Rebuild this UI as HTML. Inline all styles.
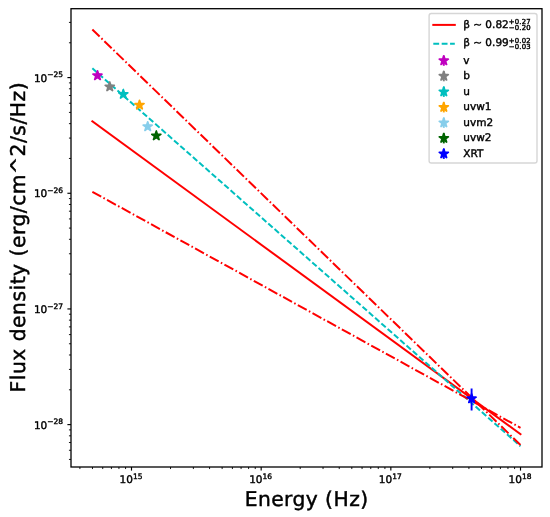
<!DOCTYPE html>
<html lang="en"><head><meta charset="utf-8"><title>Flux density vs Energy</title>
<style>html,body{margin:0;padding:0;background:#fff;}body{width:550px;height:517px;overflow:hidden;position:relative;}</style></head>
<body>
<svg width="550" height="517" viewBox="0 0 550 517" style="display:block;position:absolute;left:0;top:0;filter:blur(0.3px)" text-rendering="geometricPrecision" font-family="'DejaVu Sans', 'Liberation Sans', sans-serif">
<rect width="550" height="517" fill="#fff"/>
<defs><clipPath id="ax"><rect x="71.0" y="8.7" width="471.0" height="458.3"/></clipPath></defs>
<g clip-path="url(#ax)">
<line x1="92.35" y1="121.3" x2="520.5" y2="434.2" stroke="#ff0000" stroke-width="2.0" stroke-linecap="square"/>
<line x1="92.35" y1="68.3" x2="520.5" y2="446.2" stroke="#00bfbf" stroke-width="2.0" stroke-linecap="butt" stroke-dasharray="5.850 2.530"/>
<line x1="92.35" y1="29.5" x2="520.5" y2="445.0" stroke="#ff0000" stroke-width="2.0" stroke-linecap="butt" stroke-dasharray="10.118 2.530 1.581 2.530"/>
<line x1="92.35" y1="191.8" x2="520.5" y2="427.8" stroke="#ff0000" stroke-width="2.0" stroke-linecap="butt" stroke-dasharray="10.118 2.530 1.581 2.530"/>
<polygon points="97.50,70.85 96.43,74.13 92.98,74.13 95.77,76.16 94.71,79.44 97.50,77.41 100.29,79.44 99.23,76.16 102.02,74.13 98.57,74.13" fill="#bf00bf" stroke="#bf00bf" stroke-width="1.7" stroke-linejoin="round"/>
<polygon points="109.75,81.95 108.68,85.23 105.23,85.23 108.02,87.26 106.96,90.54 109.75,88.51 112.54,90.54 111.48,87.26 114.27,85.23 110.82,85.23" fill="#808080" stroke="#808080" stroke-width="1.7" stroke-linejoin="round"/>
<polygon points="123.30,89.45 122.23,92.73 118.78,92.73 121.57,94.76 120.51,98.04 123.30,96.01 126.09,98.04 125.03,94.76 127.82,92.73 124.37,92.73" fill="#00bfbf" stroke="#00bfbf" stroke-width="1.7" stroke-linejoin="round"/>
<polygon points="139.50,100.25 138.43,103.53 134.98,103.53 137.77,105.56 136.71,108.84 139.50,106.81 142.29,108.84 141.23,105.56 144.02,103.53 140.57,103.53" fill="#ffa500" stroke="#ffa500" stroke-width="1.7" stroke-linejoin="round"/>
<polygon points="147.70,121.85 146.63,125.13 143.18,125.13 145.97,127.16 144.91,130.44 147.70,128.41 150.49,130.44 149.43,127.16 152.22,125.13 148.77,125.13" fill="#87ceeb" stroke="#87ceeb" stroke-width="1.7" stroke-linejoin="round"/>
<polygon points="156.30,130.95 155.23,134.23 151.78,134.23 154.57,136.26 153.51,139.54 156.30,137.51 159.09,139.54 158.03,136.26 160.82,134.23 157.37,134.23" fill="#006400" stroke="#006400" stroke-width="1.7" stroke-linejoin="round"/>
<line x1="471.6" y1="388.6" x2="471.6" y2="410.6" stroke="#0000ff" stroke-width="1.9"/>
<polygon points="471.60,393.85 470.53,397.13 467.08,397.13 469.87,399.16 468.81,402.44 471.60,400.41 474.39,402.44 473.33,399.16 476.12,397.13 472.67,397.13" fill="#0000ff" stroke="#0000ff" stroke-width="1.7" stroke-linejoin="round"/>
</g>
<rect x="71.0" y="8.7" width="471.0" height="458.3" fill="none" stroke="#000" stroke-width="1.3" stroke-linejoin="miter"/>
<line x1="79.90" y1="467.0" x2="79.90" y2="469.05" stroke="#000" stroke-width="0.9"/>
<line x1="92.47" y1="467.0" x2="92.47" y2="469.05" stroke="#000" stroke-width="0.9"/>
<line x1="102.73" y1="467.0" x2="102.73" y2="469.05" stroke="#000" stroke-width="0.9"/>
<line x1="111.41" y1="467.0" x2="111.41" y2="469.05" stroke="#000" stroke-width="0.9"/>
<line x1="118.93" y1="467.0" x2="118.93" y2="469.05" stroke="#000" stroke-width="0.9"/>
<line x1="125.57" y1="467.0" x2="125.57" y2="469.05" stroke="#000" stroke-width="0.9"/>
<line x1="131.50" y1="467.0" x2="131.50" y2="470.6" stroke="#000" stroke-width="1.15"/>
<line x1="170.53" y1="467.0" x2="170.53" y2="469.05" stroke="#000" stroke-width="0.9"/>
<line x1="193.37" y1="467.0" x2="193.37" y2="469.05" stroke="#000" stroke-width="0.9"/>
<line x1="209.57" y1="467.0" x2="209.57" y2="469.05" stroke="#000" stroke-width="0.9"/>
<line x1="222.14" y1="467.0" x2="222.14" y2="469.05" stroke="#000" stroke-width="0.9"/>
<line x1="232.40" y1="467.0" x2="232.40" y2="469.05" stroke="#000" stroke-width="0.9"/>
<line x1="241.08" y1="467.0" x2="241.08" y2="469.05" stroke="#000" stroke-width="0.9"/>
<line x1="248.60" y1="467.0" x2="248.60" y2="469.05" stroke="#000" stroke-width="0.9"/>
<line x1="255.24" y1="467.0" x2="255.24" y2="469.05" stroke="#000" stroke-width="0.9"/>
<line x1="261.17" y1="467.0" x2="261.17" y2="470.6" stroke="#000" stroke-width="1.15"/>
<line x1="300.20" y1="467.0" x2="300.20" y2="469.05" stroke="#000" stroke-width="0.9"/>
<line x1="323.04" y1="467.0" x2="323.04" y2="469.05" stroke="#000" stroke-width="0.9"/>
<line x1="339.24" y1="467.0" x2="339.24" y2="469.05" stroke="#000" stroke-width="0.9"/>
<line x1="351.81" y1="467.0" x2="351.81" y2="469.05" stroke="#000" stroke-width="0.9"/>
<line x1="362.07" y1="467.0" x2="362.07" y2="469.05" stroke="#000" stroke-width="0.9"/>
<line x1="370.75" y1="467.0" x2="370.75" y2="469.05" stroke="#000" stroke-width="0.9"/>
<line x1="378.27" y1="467.0" x2="378.27" y2="469.05" stroke="#000" stroke-width="0.9"/>
<line x1="384.91" y1="467.0" x2="384.91" y2="469.05" stroke="#000" stroke-width="0.9"/>
<line x1="390.84" y1="467.0" x2="390.84" y2="470.6" stroke="#000" stroke-width="1.15"/>
<line x1="429.87" y1="467.0" x2="429.87" y2="469.05" stroke="#000" stroke-width="0.9"/>
<line x1="452.71" y1="467.0" x2="452.71" y2="469.05" stroke="#000" stroke-width="0.9"/>
<line x1="468.91" y1="467.0" x2="468.91" y2="469.05" stroke="#000" stroke-width="0.9"/>
<line x1="481.48" y1="467.0" x2="481.48" y2="469.05" stroke="#000" stroke-width="0.9"/>
<line x1="491.74" y1="467.0" x2="491.74" y2="469.05" stroke="#000" stroke-width="0.9"/>
<line x1="500.42" y1="467.0" x2="500.42" y2="469.05" stroke="#000" stroke-width="0.9"/>
<line x1="507.94" y1="467.0" x2="507.94" y2="469.05" stroke="#000" stroke-width="0.9"/>
<line x1="514.58" y1="467.0" x2="514.58" y2="469.05" stroke="#000" stroke-width="0.9"/>
<line x1="520.51" y1="467.0" x2="520.51" y2="470.6" stroke="#000" stroke-width="1.15"/>
<line x1="71.0" y1="459.43" x2="68.95" y2="459.43" stroke="#000" stroke-width="0.9"/>
<line x1="71.0" y1="450.27" x2="68.95" y2="450.27" stroke="#000" stroke-width="0.9"/>
<line x1="71.0" y1="442.53" x2="68.95" y2="442.53" stroke="#000" stroke-width="0.9"/>
<line x1="71.0" y1="435.82" x2="68.95" y2="435.82" stroke="#000" stroke-width="0.9"/>
<line x1="71.0" y1="429.90" x2="68.95" y2="429.90" stroke="#000" stroke-width="0.9"/>
<line x1="71.0" y1="424.61" x2="67.4" y2="424.61" stroke="#000" stroke-width="1.15"/>
<line x1="71.0" y1="389.79" x2="68.95" y2="389.79" stroke="#000" stroke-width="0.9"/>
<line x1="71.0" y1="369.42" x2="68.95" y2="369.42" stroke="#000" stroke-width="0.9"/>
<line x1="71.0" y1="354.97" x2="68.95" y2="354.97" stroke="#000" stroke-width="0.9"/>
<line x1="71.0" y1="343.76" x2="68.95" y2="343.76" stroke="#000" stroke-width="0.9"/>
<line x1="71.0" y1="334.60" x2="68.95" y2="334.60" stroke="#000" stroke-width="0.9"/>
<line x1="71.0" y1="326.86" x2="68.95" y2="326.86" stroke="#000" stroke-width="0.9"/>
<line x1="71.0" y1="320.15" x2="68.95" y2="320.15" stroke="#000" stroke-width="0.9"/>
<line x1="71.0" y1="314.23" x2="68.95" y2="314.23" stroke="#000" stroke-width="0.9"/>
<line x1="71.0" y1="308.94" x2="67.4" y2="308.94" stroke="#000" stroke-width="1.15"/>
<line x1="71.0" y1="274.12" x2="68.95" y2="274.12" stroke="#000" stroke-width="0.9"/>
<line x1="71.0" y1="253.75" x2="68.95" y2="253.75" stroke="#000" stroke-width="0.9"/>
<line x1="71.0" y1="239.30" x2="68.95" y2="239.30" stroke="#000" stroke-width="0.9"/>
<line x1="71.0" y1="228.09" x2="68.95" y2="228.09" stroke="#000" stroke-width="0.9"/>
<line x1="71.0" y1="218.93" x2="68.95" y2="218.93" stroke="#000" stroke-width="0.9"/>
<line x1="71.0" y1="211.19" x2="68.95" y2="211.19" stroke="#000" stroke-width="0.9"/>
<line x1="71.0" y1="204.48" x2="68.95" y2="204.48" stroke="#000" stroke-width="0.9"/>
<line x1="71.0" y1="198.56" x2="68.95" y2="198.56" stroke="#000" stroke-width="0.9"/>
<line x1="71.0" y1="193.27" x2="67.4" y2="193.27" stroke="#000" stroke-width="1.15"/>
<line x1="71.0" y1="158.45" x2="68.95" y2="158.45" stroke="#000" stroke-width="0.9"/>
<line x1="71.0" y1="138.08" x2="68.95" y2="138.08" stroke="#000" stroke-width="0.9"/>
<line x1="71.0" y1="123.63" x2="68.95" y2="123.63" stroke="#000" stroke-width="0.9"/>
<line x1="71.0" y1="112.42" x2="68.95" y2="112.42" stroke="#000" stroke-width="0.9"/>
<line x1="71.0" y1="103.26" x2="68.95" y2="103.26" stroke="#000" stroke-width="0.9"/>
<line x1="71.0" y1="95.52" x2="68.95" y2="95.52" stroke="#000" stroke-width="0.9"/>
<line x1="71.0" y1="88.81" x2="68.95" y2="88.81" stroke="#000" stroke-width="0.9"/>
<line x1="71.0" y1="82.89" x2="68.95" y2="82.89" stroke="#000" stroke-width="0.9"/>
<line x1="71.0" y1="77.60" x2="67.4" y2="77.60" stroke="#000" stroke-width="1.15"/>
<line x1="71.0" y1="42.78" x2="68.95" y2="42.78" stroke="#000" stroke-width="0.9"/>
<line x1="71.0" y1="22.41" x2="68.95" y2="22.41" stroke="#000" stroke-width="0.9"/>
<text x="119.50" y="483.0" font-size="10.5" fill="#000" stroke="#000" stroke-width="0.4">10<tspan dy="-4.1" font-size="7.5">15</tspan></text>
<text x="249.17" y="483.0" font-size="10.5" fill="#000" stroke="#000" stroke-width="0.4">10<tspan dy="-4.1" font-size="7.5">16</tspan></text>
<text x="378.84" y="483.0" font-size="10.5" fill="#000" stroke="#000" stroke-width="0.4">10<tspan dy="-4.1" font-size="7.5">17</tspan></text>
<text x="508.51" y="483.0" font-size="10.5" fill="#000" stroke="#000" stroke-width="0.4">10<tspan dy="-4.1" font-size="7.5">18</tspan></text>
<text x="63.1" y="81.55" font-size="10.5" fill="#000" stroke="#000" stroke-width="0.4" text-anchor="end">10<tspan dy="-4.3" font-size="7.5">−25</tspan></text>
<text x="63.1" y="197.22" font-size="10.5" fill="#000" stroke="#000" stroke-width="0.4" text-anchor="end">10<tspan dy="-4.3" font-size="7.5">−26</tspan></text>
<text x="63.1" y="312.89" font-size="10.5" fill="#000" stroke="#000" stroke-width="0.4" text-anchor="end">10<tspan dy="-4.3" font-size="7.5">−27</tspan></text>
<text x="63.1" y="428.56" font-size="10.5" fill="#000" stroke="#000" stroke-width="0.4" text-anchor="end">10<tspan dy="-4.3" font-size="7.5">−28</tspan></text>
<text x="306.4" y="506" font-size="20.3" text-anchor="middle" textLength="123.5" fill="#000" stroke="#000" stroke-width="0.45">Energy (Hz)</text>
<text transform="translate(25,237.4) rotate(-90)" font-size="20.3" text-anchor="middle" textLength="310.0" fill="#000" stroke="#000" stroke-width="0.45">Flux density (erg/cm^2/s/Hz)</text>
<rect x="429.1" y="13.5" width="107.9" height="149.5" rx="2.2" ry="2.2" fill="#fff" fill-opacity="0.8" stroke="#cccccc" stroke-opacity="0.8" stroke-width="1.4"/>
<line x1="433.3" y1="24.9" x2="454.8" y2="24.9" stroke="#ff0000" stroke-width="2.0" stroke-linecap="square"/>
<line x1="433.3" y1="43.8" x2="454.8" y2="43.8" stroke="#00bfbf" stroke-width="2.0" stroke-dasharray="5.850 2.530"/>
<text x="463.2" y="27.55" font-size="10.5" fill="#000" stroke="#000" stroke-width="0.4">β ~ 0.82</text>
<text x="508.7" y="23.70" font-size="6.9" textLength="22.0" fill="#000" stroke="#000" stroke-width="0.4">+0.27</text>
<text x="508.7" y="30.25" font-size="6.9" textLength="22.0" fill="#000" stroke="#000" stroke-width="0.4">−0.20</text>
<text x="463.2" y="46.45" font-size="10.5" fill="#000" stroke="#000" stroke-width="0.4">β ~ 0.99</text>
<text x="508.7" y="42.60" font-size="6.9" textLength="22.0" fill="#000" stroke="#000" stroke-width="0.4">+0.02</text>
<text x="508.7" y="49.15" font-size="6.9" textLength="22.0" fill="#000" stroke="#000" stroke-width="0.4">−0.03</text>
<line x1="443.8" y1="55.70" x2="443.8" y2="65.80" stroke="#bf00bf" stroke-width="1.9"/>
<polygon points="443.80,55.85 442.73,59.13 439.28,59.13 442.07,61.16 441.01,64.44 443.80,62.41 446.59,64.44 445.53,61.16 448.32,59.13 444.87,59.13" fill="#bf00bf" stroke="#bf00bf" stroke-width="1.7" stroke-linejoin="round"/>
<text x="463.3" y="63.60" font-size="10.5" fill="#000" stroke="#000" stroke-width="0.4">v</text>
<line x1="443.8" y1="71.20" x2="443.8" y2="81.30" stroke="#808080" stroke-width="1.9"/>
<polygon points="443.80,71.35 442.73,74.63 439.28,74.63 442.07,76.66 441.01,79.94 443.80,77.91 446.59,79.94 445.53,76.66 448.32,74.63 444.87,74.63" fill="#808080" stroke="#808080" stroke-width="1.7" stroke-linejoin="round"/>
<text x="463.3" y="79.10" font-size="10.5" fill="#000" stroke="#000" stroke-width="0.4">b</text>
<line x1="443.8" y1="86.80" x2="443.8" y2="96.90" stroke="#00bfbf" stroke-width="1.9"/>
<polygon points="443.80,86.95 442.73,90.23 439.28,90.23 442.07,92.26 441.01,95.54 443.80,93.51 446.59,95.54 445.53,92.26 448.32,90.23 444.87,90.23" fill="#00bfbf" stroke="#00bfbf" stroke-width="1.7" stroke-linejoin="round"/>
<text x="463.3" y="94.70" font-size="10.5" fill="#000" stroke="#000" stroke-width="0.4">u</text>
<line x1="443.8" y1="102.30" x2="443.8" y2="112.40" stroke="#ffa500" stroke-width="1.9"/>
<polygon points="443.80,102.45 442.73,105.73 439.28,105.73 442.07,107.76 441.01,111.04 443.80,109.01 446.59,111.04 445.53,107.76 448.32,105.73 444.87,105.73" fill="#ffa500" stroke="#ffa500" stroke-width="1.7" stroke-linejoin="round"/>
<text x="463.3" y="110.20" font-size="10.5" fill="#000" stroke="#000" stroke-width="0.4">uvw1</text>
<line x1="443.8" y1="117.80" x2="443.8" y2="127.90" stroke="#87ceeb" stroke-width="1.9"/>
<polygon points="443.80,117.95 442.73,121.23 439.28,121.23 442.07,123.26 441.01,126.54 443.80,124.51 446.59,126.54 445.53,123.26 448.32,121.23 444.87,121.23" fill="#87ceeb" stroke="#87ceeb" stroke-width="1.7" stroke-linejoin="round"/>
<text x="463.3" y="125.70" font-size="10.5" fill="#000" stroke="#000" stroke-width="0.4">uvm2</text>
<line x1="443.8" y1="133.30" x2="443.8" y2="143.40" stroke="#006400" stroke-width="1.9"/>
<polygon points="443.80,133.45 442.73,136.73 439.28,136.73 442.07,138.76 441.01,142.04 443.80,140.01 446.59,142.04 445.53,138.76 448.32,136.73 444.87,136.73" fill="#006400" stroke="#006400" stroke-width="1.7" stroke-linejoin="round"/>
<text x="463.3" y="141.20" font-size="10.5" fill="#000" stroke="#000" stroke-width="0.4">uvw2</text>
<line x1="443.8" y1="148.80" x2="443.8" y2="158.90" stroke="#0000ff" stroke-width="1.9"/>
<polygon points="443.80,148.95 442.73,152.23 439.28,152.23 442.07,154.26 441.01,157.54 443.80,155.51 446.59,157.54 445.53,154.26 448.32,152.23 444.87,152.23" fill="#0000ff" stroke="#0000ff" stroke-width="1.7" stroke-linejoin="round"/>
<text x="463.3" y="156.70" font-size="10.5" fill="#000" stroke="#000" stroke-width="0.4">XRT</text>
</svg>
</body></html>
